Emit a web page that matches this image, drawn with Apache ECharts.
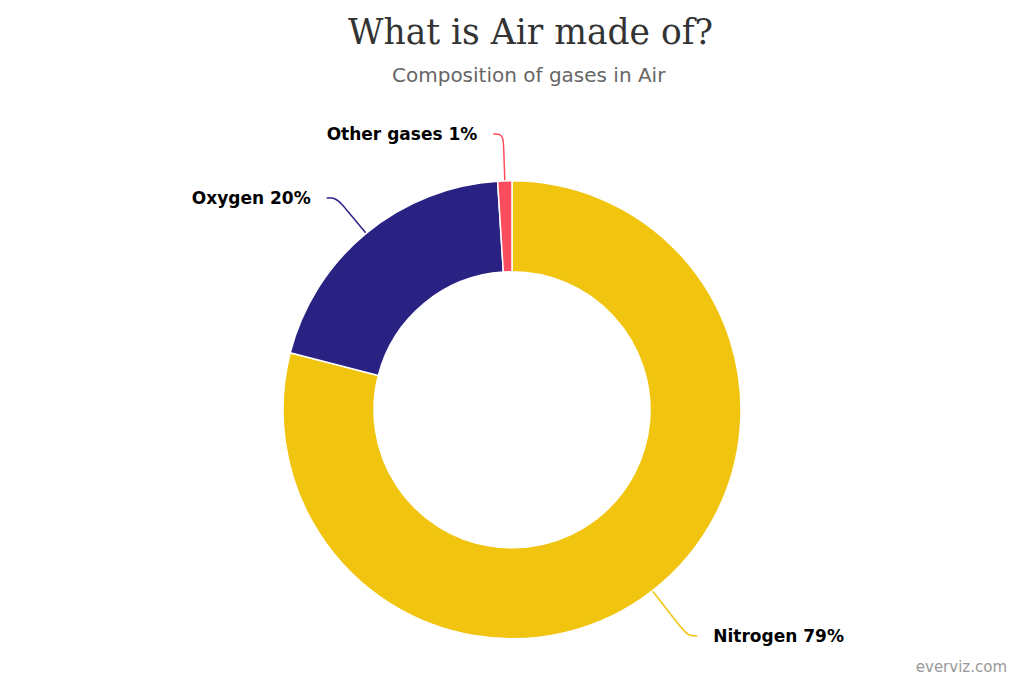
<!DOCTYPE html>
<html>
<head>
<meta charset="utf-8">
<script src="https://cdn.jsdelivr.net/npm/echarts@6/dist/echarts.min.js"></script>
<style>
html,body{margin:0;padding:0;background:#fff;}
#chart{width:1024px;height:683px;}
</style>
</head>
<body>
<div id="chart"></div>
<script>
var categories = ['Nitrogen', 'Oxygen', 'Other gases'];
var values = [79, 20, 1];
var colors = ['#f1c40f', '#2a2283', '#fe4c5f'];

var chart = echarts.init(document.getElementById('chart'), null, {renderer: 'svg'});
var lineLen = { 'Nitrogen': 57, 'Oxygen': 46, 'Other gases': 47 };
var data = categories.map(function (c, i) {
  return {
    name: c, value: values[i],
    itemStyle: { color: colors[i] },
    labelLine: { length: lineLen[c] }
  };
});
chart.setOption({
  backgroundColor: '#ffffff',
  animation: false,
  title: [{
    text: 'What is Air made of?',
    left: 343,
    top: 9,
    textStyle: { fontFamily: 'DejaVu Serif', fontSize: 34.5, fontWeight: 'normal', color: '#333333' }
  }, {
    text: 'Composition of gases in Air',
    left: 387,
    top: 60,
    textStyle: { fontFamily: 'DejaVu Sans', fontSize: 20, fontWeight: 'normal', color: '#666666' }
  }, {
    text: 'everviz.com',
    right: 12,
    bottom: 4,
    textStyle: { fontFamily: 'DejaVu Sans', fontSize: 15, fontWeight: 'normal', color: '#999999' }
  }],
  series: [{
    type: 'pie',
    center: ['50%', '60%'],
    radius: [138, 229],
    startAngle: 90,
    clockwise: true,
    data: data,
    itemStyle: { borderColor: '#ffffff', borderWidth: 1.5 },
    label: {
      show: true,
      position: 'outside',
      formatter: '{b} {c}%',
      fontFamily: 'DejaVu Sans',
      fontSize: 17,
      fontWeight: 'bold',
      color: '#000000',
      distanceToLabelLine: 16
    },
    labelLine: {
      show: true,
      length: 52,
      length2: 10,
      smooth: 0.4,
      lineStyle: { width: 1.5 }
    },
    emphasis: { disabled: true }
  }]
});
</script>
</body>
</html>
